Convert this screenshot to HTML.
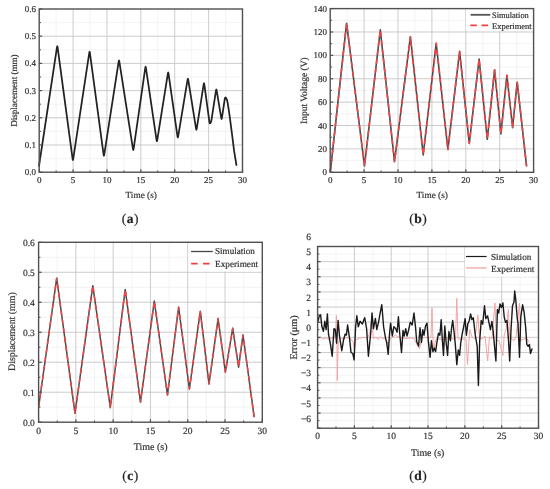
<!DOCTYPE html>
<html><head><meta charset="utf-8"><style>
html,body{margin:0;padding:0;background:#fff;}
svg{display:block;font-family:'Liberation Serif',serif;filter:blur(0.3px);}
text{stroke:#333;stroke-width:0.2px;text-rendering:geometricPrecision;}
</style></head><body>
<svg width="550" height="489" viewBox="0 0 550 489">
<rect width="550" height="489" fill="#fff"/>
<line x1="56.14" y1="9" x2="56.14" y2="172.2" stroke="#f0f0f0" stroke-width="0.8"/>
<line x1="90.03" y1="9" x2="90.03" y2="172.2" stroke="#f0f0f0" stroke-width="0.8"/>
<line x1="123.91" y1="9" x2="123.91" y2="172.2" stroke="#f0f0f0" stroke-width="0.8"/>
<line x1="157.79" y1="9" x2="157.79" y2="172.2" stroke="#f0f0f0" stroke-width="0.8"/>
<line x1="191.68" y1="9" x2="191.68" y2="172.2" stroke="#f0f0f0" stroke-width="0.8"/>
<line x1="225.56" y1="9" x2="225.56" y2="172.2" stroke="#f0f0f0" stroke-width="0.8"/>
<line x1="39.2" y1="158.6" x2="242.5" y2="158.6" stroke="#f0f0f0" stroke-width="0.8"/>
<line x1="39.2" y1="131.4" x2="242.5" y2="131.4" stroke="#f0f0f0" stroke-width="0.8"/>
<line x1="39.2" y1="104.2" x2="242.5" y2="104.2" stroke="#f0f0f0" stroke-width="0.8"/>
<line x1="39.2" y1="77" x2="242.5" y2="77" stroke="#f0f0f0" stroke-width="0.8"/>
<line x1="39.2" y1="49.8" x2="242.5" y2="49.8" stroke="#f0f0f0" stroke-width="0.8"/>
<line x1="39.2" y1="22.6" x2="242.5" y2="22.6" stroke="#f0f0f0" stroke-width="0.8"/>
<line x1="73.08" y1="9" x2="73.08" y2="172.2" stroke="#c6c6c6" stroke-width="0.9"/>
<line x1="106.97" y1="9" x2="106.97" y2="172.2" stroke="#c6c6c6" stroke-width="0.9"/>
<line x1="140.85" y1="9" x2="140.85" y2="172.2" stroke="#c6c6c6" stroke-width="0.9"/>
<line x1="174.73" y1="9" x2="174.73" y2="172.2" stroke="#c6c6c6" stroke-width="0.9"/>
<line x1="208.62" y1="9" x2="208.62" y2="172.2" stroke="#c6c6c6" stroke-width="0.9"/>
<line x1="39.2" y1="145" x2="242.5" y2="145" stroke="#c6c6c6" stroke-width="0.9"/>
<line x1="39.2" y1="117.8" x2="242.5" y2="117.8" stroke="#c6c6c6" stroke-width="0.9"/>
<line x1="39.2" y1="90.6" x2="242.5" y2="90.6" stroke="#c6c6c6" stroke-width="0.9"/>
<line x1="39.2" y1="63.4" x2="242.5" y2="63.4" stroke="#c6c6c6" stroke-width="0.9"/>
<line x1="39.2" y1="36.2" x2="242.5" y2="36.2" stroke="#c6c6c6" stroke-width="0.9"/>
<line x1="347.15" y1="8.6" x2="347.15" y2="172.3" stroke="#f0f0f0" stroke-width="0.8"/>
<line x1="381.05" y1="8.6" x2="381.05" y2="172.3" stroke="#f0f0f0" stroke-width="0.8"/>
<line x1="414.95" y1="8.6" x2="414.95" y2="172.3" stroke="#f0f0f0" stroke-width="0.8"/>
<line x1="448.85" y1="8.6" x2="448.85" y2="172.3" stroke="#f0f0f0" stroke-width="0.8"/>
<line x1="482.75" y1="8.6" x2="482.75" y2="172.3" stroke="#f0f0f0" stroke-width="0.8"/>
<line x1="516.65" y1="8.6" x2="516.65" y2="172.3" stroke="#f0f0f0" stroke-width="0.8"/>
<line x1="330.2" y1="160.61" x2="533.6" y2="160.61" stroke="#f0f0f0" stroke-width="0.8"/>
<line x1="330.2" y1="137.22" x2="533.6" y2="137.22" stroke="#f0f0f0" stroke-width="0.8"/>
<line x1="330.2" y1="113.84" x2="533.6" y2="113.84" stroke="#f0f0f0" stroke-width="0.8"/>
<line x1="330.2" y1="90.45" x2="533.6" y2="90.45" stroke="#f0f0f0" stroke-width="0.8"/>
<line x1="330.2" y1="67.06" x2="533.6" y2="67.06" stroke="#f0f0f0" stroke-width="0.8"/>
<line x1="330.2" y1="43.68" x2="533.6" y2="43.68" stroke="#f0f0f0" stroke-width="0.8"/>
<line x1="330.2" y1="20.29" x2="533.6" y2="20.29" stroke="#f0f0f0" stroke-width="0.8"/>
<line x1="364.1" y1="8.6" x2="364.1" y2="172.3" stroke="#c6c6c6" stroke-width="0.9"/>
<line x1="398" y1="8.6" x2="398" y2="172.3" stroke="#c6c6c6" stroke-width="0.9"/>
<line x1="431.9" y1="8.6" x2="431.9" y2="172.3" stroke="#c6c6c6" stroke-width="0.9"/>
<line x1="465.8" y1="8.6" x2="465.8" y2="172.3" stroke="#c6c6c6" stroke-width="0.9"/>
<line x1="499.7" y1="8.6" x2="499.7" y2="172.3" stroke="#c6c6c6" stroke-width="0.9"/>
<line x1="330.2" y1="148.91" x2="533.6" y2="148.91" stroke="#c6c6c6" stroke-width="0.9"/>
<line x1="330.2" y1="125.53" x2="533.6" y2="125.53" stroke="#c6c6c6" stroke-width="0.9"/>
<line x1="330.2" y1="102.14" x2="533.6" y2="102.14" stroke="#c6c6c6" stroke-width="0.9"/>
<line x1="330.2" y1="78.76" x2="533.6" y2="78.76" stroke="#c6c6c6" stroke-width="0.9"/>
<line x1="330.2" y1="55.37" x2="533.6" y2="55.37" stroke="#c6c6c6" stroke-width="0.9"/>
<line x1="330.2" y1="31.99" x2="533.6" y2="31.99" stroke="#c6c6c6" stroke-width="0.9"/>
<line x1="57.24" y1="242.3" x2="57.24" y2="422.2" stroke="#f0f0f0" stroke-width="0.8"/>
<line x1="94.53" y1="242.3" x2="94.53" y2="422.2" stroke="#f0f0f0" stroke-width="0.8"/>
<line x1="131.81" y1="242.3" x2="131.81" y2="422.2" stroke="#f0f0f0" stroke-width="0.8"/>
<line x1="169.09" y1="242.3" x2="169.09" y2="422.2" stroke="#f0f0f0" stroke-width="0.8"/>
<line x1="206.38" y1="242.3" x2="206.38" y2="422.2" stroke="#f0f0f0" stroke-width="0.8"/>
<line x1="243.66" y1="242.3" x2="243.66" y2="422.2" stroke="#f0f0f0" stroke-width="0.8"/>
<line x1="38.6" y1="407.21" x2="262.3" y2="407.21" stroke="#f0f0f0" stroke-width="0.8"/>
<line x1="38.6" y1="377.23" x2="262.3" y2="377.23" stroke="#f0f0f0" stroke-width="0.8"/>
<line x1="38.6" y1="347.24" x2="262.3" y2="347.24" stroke="#f0f0f0" stroke-width="0.8"/>
<line x1="38.6" y1="317.26" x2="262.3" y2="317.26" stroke="#f0f0f0" stroke-width="0.8"/>
<line x1="38.6" y1="287.27" x2="262.3" y2="287.27" stroke="#f0f0f0" stroke-width="0.8"/>
<line x1="38.6" y1="257.29" x2="262.3" y2="257.29" stroke="#f0f0f0" stroke-width="0.8"/>
<line x1="75.88" y1="242.3" x2="75.88" y2="422.2" stroke="#c6c6c6" stroke-width="0.9"/>
<line x1="113.17" y1="242.3" x2="113.17" y2="422.2" stroke="#c6c6c6" stroke-width="0.9"/>
<line x1="150.45" y1="242.3" x2="150.45" y2="422.2" stroke="#c6c6c6" stroke-width="0.9"/>
<line x1="187.73" y1="242.3" x2="187.73" y2="422.2" stroke="#c6c6c6" stroke-width="0.9"/>
<line x1="225.02" y1="242.3" x2="225.02" y2="422.2" stroke="#c6c6c6" stroke-width="0.9"/>
<line x1="38.6" y1="392.22" x2="262.3" y2="392.22" stroke="#c6c6c6" stroke-width="0.9"/>
<line x1="38.6" y1="362.23" x2="262.3" y2="362.23" stroke="#c6c6c6" stroke-width="0.9"/>
<line x1="38.6" y1="332.25" x2="262.3" y2="332.25" stroke="#c6c6c6" stroke-width="0.9"/>
<line x1="38.6" y1="302.27" x2="262.3" y2="302.27" stroke="#c6c6c6" stroke-width="0.9"/>
<line x1="38.6" y1="272.28" x2="262.3" y2="272.28" stroke="#c6c6c6" stroke-width="0.9"/>
<line x1="336.01" y1="246.5" x2="336.01" y2="428.2" stroke="#f0f0f0" stroke-width="0.8"/>
<line x1="372.83" y1="246.5" x2="372.83" y2="428.2" stroke="#f0f0f0" stroke-width="0.8"/>
<line x1="409.64" y1="246.5" x2="409.64" y2="428.2" stroke="#f0f0f0" stroke-width="0.8"/>
<line x1="446.46" y1="246.5" x2="446.46" y2="428.2" stroke="#f0f0f0" stroke-width="0.8"/>
<line x1="483.27" y1="246.5" x2="483.27" y2="428.2" stroke="#f0f0f0" stroke-width="0.8"/>
<line x1="520.09" y1="246.5" x2="520.09" y2="428.2" stroke="#f0f0f0" stroke-width="0.8"/>
<line x1="317.6" y1="420.63" x2="538.5" y2="420.63" stroke="#f0f0f0" stroke-width="0.8"/>
<line x1="317.6" y1="405.49" x2="538.5" y2="405.49" stroke="#f0f0f0" stroke-width="0.8"/>
<line x1="317.6" y1="390.35" x2="538.5" y2="390.35" stroke="#f0f0f0" stroke-width="0.8"/>
<line x1="317.6" y1="375.2" x2="538.5" y2="375.2" stroke="#f0f0f0" stroke-width="0.8"/>
<line x1="317.6" y1="360.06" x2="538.5" y2="360.06" stroke="#f0f0f0" stroke-width="0.8"/>
<line x1="317.6" y1="344.92" x2="538.5" y2="344.92" stroke="#f0f0f0" stroke-width="0.8"/>
<line x1="317.6" y1="329.78" x2="538.5" y2="329.78" stroke="#f0f0f0" stroke-width="0.8"/>
<line x1="317.6" y1="314.64" x2="538.5" y2="314.64" stroke="#f0f0f0" stroke-width="0.8"/>
<line x1="317.6" y1="299.5" x2="538.5" y2="299.5" stroke="#f0f0f0" stroke-width="0.8"/>
<line x1="317.6" y1="284.35" x2="538.5" y2="284.35" stroke="#f0f0f0" stroke-width="0.8"/>
<line x1="317.6" y1="269.21" x2="538.5" y2="269.21" stroke="#f0f0f0" stroke-width="0.8"/>
<line x1="317.6" y1="254.07" x2="538.5" y2="254.07" stroke="#f0f0f0" stroke-width="0.8"/>
<line x1="354.42" y1="246.5" x2="354.42" y2="428.2" stroke="#c6c6c6" stroke-width="0.9"/>
<line x1="391.23" y1="246.5" x2="391.23" y2="428.2" stroke="#c6c6c6" stroke-width="0.9"/>
<line x1="428.05" y1="246.5" x2="428.05" y2="428.2" stroke="#c6c6c6" stroke-width="0.9"/>
<line x1="464.87" y1="246.5" x2="464.87" y2="428.2" stroke="#c6c6c6" stroke-width="0.9"/>
<line x1="501.68" y1="246.5" x2="501.68" y2="428.2" stroke="#c6c6c6" stroke-width="0.9"/>
<line x1="317.6" y1="413.06" x2="538.5" y2="413.06" stroke="#c6c6c6" stroke-width="0.9"/>
<line x1="317.6" y1="397.92" x2="538.5" y2="397.92" stroke="#c6c6c6" stroke-width="0.9"/>
<line x1="317.6" y1="382.77" x2="538.5" y2="382.77" stroke="#c6c6c6" stroke-width="0.9"/>
<line x1="317.6" y1="367.63" x2="538.5" y2="367.63" stroke="#c6c6c6" stroke-width="0.9"/>
<line x1="317.6" y1="352.49" x2="538.5" y2="352.49" stroke="#c6c6c6" stroke-width="0.9"/>
<line x1="317.6" y1="337.35" x2="538.5" y2="337.35" stroke="#c6c6c6" stroke-width="0.9"/>
<line x1="317.6" y1="322.21" x2="538.5" y2="322.21" stroke="#c6c6c6" stroke-width="0.9"/>
<line x1="317.6" y1="307.07" x2="538.5" y2="307.07" stroke="#c6c6c6" stroke-width="0.9"/>
<line x1="317.6" y1="291.93" x2="538.5" y2="291.93" stroke="#c6c6c6" stroke-width="0.9"/>
<line x1="317.6" y1="276.78" x2="538.5" y2="276.78" stroke="#c6c6c6" stroke-width="0.9"/>
<line x1="317.6" y1="261.64" x2="538.5" y2="261.64" stroke="#c6c6c6" stroke-width="0.9"/>
<path d="M39,166 L57,47.18 Q57.3,45.2 57.57,47.18 L72.63,159.22 Q72.9,161.2 73.2,159.22 L89.3,52.68 Q89.6,50.7 89.87,52.68 L103.63,154.82 Q103.9,156.8 104.21,154.82 L118.69,61.38 Q119,59.4 119.31,61.38 L132.99,149.02 Q133.3,151 133.59,149.02 L145.31,67.58 Q145.6,65.6 145.89,67.58 L156.61,140.32 Q156.9,142.3 157.21,140.32 L167.89,73.38 Q168.2,71.4 168.48,73.38 L177.52,136.62 Q177.8,138.6 178.13,136.63 L187.57,79.67 Q187.9,77.7 188.22,79.67 L196.08,128.93 Q196.4,130.9 196.71,128.92 L203.69,84.18 Q204,82.2 204.27,84.18 L209.43,122.02 Q209.7,124 210.45,122.9 L210.45,122.9 Q211.2,121.8 211.5,119.82 L216,90.48 Q216.3,88.5 216.63,90.47 L221.27,118.23 Q221.6,120.2 221.89,118.22 L224.81,98.58 Q225.1,96.6 226.15,98.2 L226.15,98.2 Q227.2,99.8 227.5,101.78 L229.2,112.82 Q229.5,114.8 229.76,116.78 L232.04,134.42 Q232.3,136.4 232.55,138.38 L233.95,149.52 Q234.2,151.5 234.52,153.47 L236.4,165" fill="none" stroke="#222" stroke-width="1.75" stroke-linejoin="round" stroke-linecap="round"/>
<polyline points="330.4,171.2 346.6,23.2 364.5,166 380.3,29.9 394.5,161.6 410.4,36.7 423.2,154.9 436.2,43.3 447.9,149.4 459.6,51.4 469.3,143.4 479.1,59 487.3,139.3 494.6,69.9 500.9,133.9 506.9,75.4 512.6,127.6 517.2,82.2 526.5,165.7" fill="none" stroke="#4a4a4a" stroke-width="1.6" stroke-linejoin="round" stroke-linecap="round"/>
<polyline points="330.4,171.2 346.6,23.2 364.5,166 380.3,29.9 394.5,161.6 410.4,36.7 423.2,154.9 436.2,43.3 447.9,149.4 459.6,51.4 469.3,143.4 479.1,59 487.3,139.3 494.6,69.9 500.9,133.9 506.9,75.4 512.6,127.6 517.2,82.2 526.5,165.7" fill="none" stroke="#f04444" stroke-width="1.6" stroke-linejoin="round" stroke-linecap="round" stroke-dasharray="4 5" stroke-linecap="butt"/>
<polyline points="38.8,406 56.7,278.2 75,413.3 92.8,285.7 110.3,407.7 125.2,289.4 140.5,402.1 154.3,301.1 167.5,395 178.6,307.2 189.4,388.9 200.3,311.3 209,383.9 218.1,318.6 225.4,372.2 232.7,328.3 238.6,367.2 243,335 254.1,416.7" fill="none" stroke="#4a4a4a" stroke-width="1.5" stroke-linejoin="round" stroke-linecap="round"/>
<polyline points="38.8,406 56.7,278.2 75,413.3 92.8,285.7 110.3,407.7 125.2,289.4 140.5,402.1 154.3,301.1 167.5,395 178.6,307.2 189.4,388.9 200.3,311.3 209,383.9 218.1,318.6 225.4,372.2 232.7,328.3 238.6,367.2 243,335 254.1,416.7" fill="none" stroke="#f04444" stroke-width="1.5" stroke-linejoin="round" stroke-linecap="round" stroke-dasharray="4 5" stroke-linecap="butt"/>
<polyline points="317.8,340 320,337 323,339 326,338 329,339.5 332,338 334.5,338 335.8,330 336.4,315.3 337,345 337.2,380.8 338.2,345 339.5,338 343,339 347,337.5 351,339 353.2,342 354.3,349.4 355.5,340 359,338.5 363,337.5 367,338 369.5,334 371.7,320 373.5,338.7 376,337 378,339.5 380,337 383,338.5 386,339 387.9,344 390,339 393,337 395.6,335 398,337 402,338 406,338.5 410,338 414,338.5 417.3,345.2 419.5,348.9 421.5,338 425,337.5 429,338 431,337 432,307.6 433.2,345 434.2,349 435.5,340 437,339 440,339 444,339.5 448,338 452,339 455.5,339 456.8,298.4 458,339 462,339 466,339 467.5,364.6 469.7,329.7 472,337 475,338.9 477.9,315 479.5,338.9 482,338.9 485,336 487.6,361 489.5,337 492,338.9 495,303 496.3,340.7 499,340.7 502.9,355.5 504.2,335 506,330 508.4,309.4 509.7,338.9 512,338.9 514,340.7 516,337 519.5,303 520.8,340.7 523.5,338.9 527.2,338.9 529,342" fill="none" stroke="#f4a5a5" stroke-width="1.0" stroke-linejoin="round" stroke-linecap="round"/>
<polyline points="317.8,322.2 319.3,315.8 320.6,314.8 321.9,326.8 323.4,331.4 324.8,321.3 326.1,329.6 327.4,313.9 328.5,334.2 330.3,343.3 332.2,356.2 334,328.6 335.3,329.6 336.6,343.3 338.1,320.4 339.5,336 341.8,350.7 343.6,339.7 345.1,334.2 346.4,335.1 347.6,325 349.5,337.8 351,352.5 352.8,353.5 354.1,359.9 355.6,326.8 356.8,315.8 358.3,326.8 360.1,321.3 362.4,324 364.7,317.6 366.6,328.6 368.4,356.2 369.7,343.3 370.8,332.3 372,313 373.5,328.6 375.4,318.5 376.8,329.6 378.7,321.3 380,313.9 381.8,304.7 383.6,326.8 385.5,337.8 386.8,343.3 388.2,354.4 389.5,334.2 390.6,323.1 392.3,336 393.8,326.8 395.6,328.6 397.1,332.3 398.4,316.7 399.6,332.3 401.5,352.5 403,330.5 404.2,336 405.7,328.6 407,336 408.5,330.5 410.3,322.2 412.2,325 414,313 415.5,326.8 416.7,341.5 418.6,346.1 420,327.8 421.5,342.5 422.8,329.7 424,335.2 425.5,326 427,323.2 428.3,340.7 430.1,357.3 431.4,340.7 432.9,351.7 434.3,348.1 435.6,351.7 436.9,342.5 438.4,333.3 439.9,335.2 441.2,319.6 442.4,340.7 443.5,355.4 444.8,326 446.1,342.5 447.6,355.4 448.9,331.5 450.4,340.7 451.6,327.8 452.7,320.5 454,331.5 455.3,344.4 456.8,364.6 458.3,349.9 459.6,355.4 460.8,342.5 462.3,333.3 463.8,326 465.1,318.6 466.4,335.2 467.8,324.1 469.3,320.5 470.6,314 471.9,319.6 473.3,317.7 475.3,335.2 477.2,346.3 478.4,385.6 479.7,340.7 481.2,320.5 482.7,324.2 484.5,305.8 485.8,318.6 487.6,315.9 488.9,322.3 490.4,329.7 491.9,321.4 493.2,331.5 494.5,346.3 495.9,361 497.4,309.4 498.7,313.1 500,303.9 501.4,307.6 502.9,303 504.2,316.8 505.5,322.3 507,320.5 508.4,338.9 509.7,361 511,329.7 512.5,305.8 514,302.1 514.7,291 515.8,300.2 517.1,316.8 518,323.3 519.5,357.3 520.8,316.8 522.6,304.8 524.1,312.2 525.7,327.9 526.8,344.4 528.1,346.3 529.4,344.4 530.5,353.6 532,349" fill="none" stroke="#1a1a1a" stroke-width="1.4" stroke-linejoin="round" stroke-linecap="round"/>
<rect x="466" y="9.3" width="67" height="21.6" fill="#fff"/>
<line x1="470.6" y1="14.8" x2="490.3" y2="14.8" stroke="#555" stroke-width="1.8"/>
<line x1="470.3" y1="25.4" x2="490.3" y2="25.4" stroke="#f04040" stroke-width="1.8" stroke-dasharray="6.5 4.7"/>
<rect x="188.6" y="243" width="73" height="28.4" fill="#fff"/>
<line x1="191.1" y1="251.5" x2="212.8" y2="251.5" stroke="#444" stroke-width="1.3"/>
<line x1="191.1" y1="263.6" x2="212.8" y2="263.6" stroke="#f04040" stroke-width="1.6" stroke-dasharray="6.6 5.3"/>
<rect x="465.1" y="247.2" width="72.7" height="29.6" fill="#fff"/>
<line x1="466" y1="256.5" x2="486.6" y2="256.5" stroke="#1a1a1a" stroke-width="1.2"/>
<line x1="466" y1="267.9" x2="486.6" y2="267.9" stroke="#f5b0b0" stroke-width="1.5"/>
<rect x="39.2" y="9" width="203.3" height="163.2" fill="none" stroke="#505050" stroke-width="1.4"/>
<line x1="39.2" y1="172.2" x2="39.2" y2="169.2" stroke="#505050" stroke-width="1.2"/>
<line x1="73.08" y1="172.2" x2="73.08" y2="169.2" stroke="#505050" stroke-width="1.2"/>
<line x1="106.97" y1="172.2" x2="106.97" y2="169.2" stroke="#505050" stroke-width="1.2"/>
<line x1="140.85" y1="172.2" x2="140.85" y2="169.2" stroke="#505050" stroke-width="1.2"/>
<line x1="174.73" y1="172.2" x2="174.73" y2="169.2" stroke="#505050" stroke-width="1.2"/>
<line x1="208.62" y1="172.2" x2="208.62" y2="169.2" stroke="#505050" stroke-width="1.2"/>
<line x1="242.5" y1="172.2" x2="242.5" y2="169.2" stroke="#505050" stroke-width="1.2"/>
<line x1="56.14" y1="172.2" x2="56.14" y2="170.4" stroke="#505050" stroke-width="1.0"/>
<line x1="90.03" y1="172.2" x2="90.03" y2="170.4" stroke="#505050" stroke-width="1.0"/>
<line x1="123.91" y1="172.2" x2="123.91" y2="170.4" stroke="#505050" stroke-width="1.0"/>
<line x1="157.79" y1="172.2" x2="157.79" y2="170.4" stroke="#505050" stroke-width="1.0"/>
<line x1="191.68" y1="172.2" x2="191.68" y2="170.4" stroke="#505050" stroke-width="1.0"/>
<line x1="225.56" y1="172.2" x2="225.56" y2="170.4" stroke="#505050" stroke-width="1.0"/>
<line x1="39.2" y1="172.2" x2="42.2" y2="172.2" stroke="#505050" stroke-width="1.2"/>
<line x1="39.2" y1="145" x2="42.2" y2="145" stroke="#505050" stroke-width="1.2"/>
<line x1="39.2" y1="117.8" x2="42.2" y2="117.8" stroke="#505050" stroke-width="1.2"/>
<line x1="39.2" y1="90.6" x2="42.2" y2="90.6" stroke="#505050" stroke-width="1.2"/>
<line x1="39.2" y1="63.4" x2="42.2" y2="63.4" stroke="#505050" stroke-width="1.2"/>
<line x1="39.2" y1="36.2" x2="42.2" y2="36.2" stroke="#505050" stroke-width="1.2"/>
<line x1="39.2" y1="9" x2="42.2" y2="9" stroke="#505050" stroke-width="1.2"/>
<line x1="39.2" y1="158.6" x2="41" y2="158.6" stroke="#505050" stroke-width="1.0"/>
<line x1="39.2" y1="131.4" x2="41" y2="131.4" stroke="#505050" stroke-width="1.0"/>
<line x1="39.2" y1="104.2" x2="41" y2="104.2" stroke="#505050" stroke-width="1.0"/>
<line x1="39.2" y1="77" x2="41" y2="77" stroke="#505050" stroke-width="1.0"/>
<line x1="39.2" y1="49.8" x2="41" y2="49.8" stroke="#505050" stroke-width="1.0"/>
<line x1="39.2" y1="22.6" x2="41" y2="22.6" stroke="#505050" stroke-width="1.0"/>
<rect x="330.2" y="8.6" width="203.4" height="163.7" fill="none" stroke="#505050" stroke-width="1.4"/>
<line x1="330.2" y1="172.3" x2="330.2" y2="169.3" stroke="#505050" stroke-width="1.2"/>
<line x1="364.1" y1="172.3" x2="364.1" y2="169.3" stroke="#505050" stroke-width="1.2"/>
<line x1="398" y1="172.3" x2="398" y2="169.3" stroke="#505050" stroke-width="1.2"/>
<line x1="431.9" y1="172.3" x2="431.9" y2="169.3" stroke="#505050" stroke-width="1.2"/>
<line x1="465.8" y1="172.3" x2="465.8" y2="169.3" stroke="#505050" stroke-width="1.2"/>
<line x1="499.7" y1="172.3" x2="499.7" y2="169.3" stroke="#505050" stroke-width="1.2"/>
<line x1="533.6" y1="172.3" x2="533.6" y2="169.3" stroke="#505050" stroke-width="1.2"/>
<line x1="347.15" y1="172.3" x2="347.15" y2="170.5" stroke="#505050" stroke-width="1.0"/>
<line x1="381.05" y1="172.3" x2="381.05" y2="170.5" stroke="#505050" stroke-width="1.0"/>
<line x1="414.95" y1="172.3" x2="414.95" y2="170.5" stroke="#505050" stroke-width="1.0"/>
<line x1="448.85" y1="172.3" x2="448.85" y2="170.5" stroke="#505050" stroke-width="1.0"/>
<line x1="482.75" y1="172.3" x2="482.75" y2="170.5" stroke="#505050" stroke-width="1.0"/>
<line x1="516.65" y1="172.3" x2="516.65" y2="170.5" stroke="#505050" stroke-width="1.0"/>
<line x1="330.2" y1="172.3" x2="333.2" y2="172.3" stroke="#505050" stroke-width="1.2"/>
<line x1="330.2" y1="148.91" x2="333.2" y2="148.91" stroke="#505050" stroke-width="1.2"/>
<line x1="330.2" y1="125.53" x2="333.2" y2="125.53" stroke="#505050" stroke-width="1.2"/>
<line x1="330.2" y1="102.14" x2="333.2" y2="102.14" stroke="#505050" stroke-width="1.2"/>
<line x1="330.2" y1="78.76" x2="333.2" y2="78.76" stroke="#505050" stroke-width="1.2"/>
<line x1="330.2" y1="55.37" x2="333.2" y2="55.37" stroke="#505050" stroke-width="1.2"/>
<line x1="330.2" y1="31.99" x2="333.2" y2="31.99" stroke="#505050" stroke-width="1.2"/>
<line x1="330.2" y1="8.6" x2="333.2" y2="8.6" stroke="#505050" stroke-width="1.2"/>
<line x1="330.2" y1="160.61" x2="332" y2="160.61" stroke="#505050" stroke-width="1.0"/>
<line x1="330.2" y1="137.22" x2="332" y2="137.22" stroke="#505050" stroke-width="1.0"/>
<line x1="330.2" y1="113.84" x2="332" y2="113.84" stroke="#505050" stroke-width="1.0"/>
<line x1="330.2" y1="90.45" x2="332" y2="90.45" stroke="#505050" stroke-width="1.0"/>
<line x1="330.2" y1="67.06" x2="332" y2="67.06" stroke="#505050" stroke-width="1.0"/>
<line x1="330.2" y1="43.68" x2="332" y2="43.68" stroke="#505050" stroke-width="1.0"/>
<line x1="330.2" y1="20.29" x2="332" y2="20.29" stroke="#505050" stroke-width="1.0"/>
<rect x="38.6" y="242.3" width="223.7" height="179.9" fill="none" stroke="#505050" stroke-width="1.4"/>
<line x1="38.6" y1="422.2" x2="38.6" y2="419.2" stroke="#505050" stroke-width="1.2"/>
<line x1="75.88" y1="422.2" x2="75.88" y2="419.2" stroke="#505050" stroke-width="1.2"/>
<line x1="113.17" y1="422.2" x2="113.17" y2="419.2" stroke="#505050" stroke-width="1.2"/>
<line x1="150.45" y1="422.2" x2="150.45" y2="419.2" stroke="#505050" stroke-width="1.2"/>
<line x1="187.73" y1="422.2" x2="187.73" y2="419.2" stroke="#505050" stroke-width="1.2"/>
<line x1="225.02" y1="422.2" x2="225.02" y2="419.2" stroke="#505050" stroke-width="1.2"/>
<line x1="262.3" y1="422.2" x2="262.3" y2="419.2" stroke="#505050" stroke-width="1.2"/>
<line x1="57.24" y1="422.2" x2="57.24" y2="420.4" stroke="#505050" stroke-width="1.0"/>
<line x1="94.53" y1="422.2" x2="94.53" y2="420.4" stroke="#505050" stroke-width="1.0"/>
<line x1="131.81" y1="422.2" x2="131.81" y2="420.4" stroke="#505050" stroke-width="1.0"/>
<line x1="169.09" y1="422.2" x2="169.09" y2="420.4" stroke="#505050" stroke-width="1.0"/>
<line x1="206.38" y1="422.2" x2="206.38" y2="420.4" stroke="#505050" stroke-width="1.0"/>
<line x1="243.66" y1="422.2" x2="243.66" y2="420.4" stroke="#505050" stroke-width="1.0"/>
<line x1="38.6" y1="422.2" x2="41.6" y2="422.2" stroke="#505050" stroke-width="1.2"/>
<line x1="38.6" y1="392.22" x2="41.6" y2="392.22" stroke="#505050" stroke-width="1.2"/>
<line x1="38.6" y1="362.23" x2="41.6" y2="362.23" stroke="#505050" stroke-width="1.2"/>
<line x1="38.6" y1="332.25" x2="41.6" y2="332.25" stroke="#505050" stroke-width="1.2"/>
<line x1="38.6" y1="302.27" x2="41.6" y2="302.27" stroke="#505050" stroke-width="1.2"/>
<line x1="38.6" y1="272.28" x2="41.6" y2="272.28" stroke="#505050" stroke-width="1.2"/>
<line x1="38.6" y1="242.3" x2="41.6" y2="242.3" stroke="#505050" stroke-width="1.2"/>
<line x1="38.6" y1="407.21" x2="40.4" y2="407.21" stroke="#505050" stroke-width="1.0"/>
<line x1="38.6" y1="377.23" x2="40.4" y2="377.23" stroke="#505050" stroke-width="1.0"/>
<line x1="38.6" y1="347.24" x2="40.4" y2="347.24" stroke="#505050" stroke-width="1.0"/>
<line x1="38.6" y1="317.26" x2="40.4" y2="317.26" stroke="#505050" stroke-width="1.0"/>
<line x1="38.6" y1="287.27" x2="40.4" y2="287.27" stroke="#505050" stroke-width="1.0"/>
<line x1="38.6" y1="257.29" x2="40.4" y2="257.29" stroke="#505050" stroke-width="1.0"/>
<rect x="317.6" y="246.5" width="220.9" height="181.7" fill="none" stroke="#505050" stroke-width="1.4"/>
<line x1="317.6" y1="428.2" x2="317.6" y2="425.2" stroke="#505050" stroke-width="1.2"/>
<line x1="354.42" y1="428.2" x2="354.42" y2="425.2" stroke="#505050" stroke-width="1.2"/>
<line x1="391.23" y1="428.2" x2="391.23" y2="425.2" stroke="#505050" stroke-width="1.2"/>
<line x1="428.05" y1="428.2" x2="428.05" y2="425.2" stroke="#505050" stroke-width="1.2"/>
<line x1="464.87" y1="428.2" x2="464.87" y2="425.2" stroke="#505050" stroke-width="1.2"/>
<line x1="501.68" y1="428.2" x2="501.68" y2="425.2" stroke="#505050" stroke-width="1.2"/>
<line x1="538.5" y1="428.2" x2="538.5" y2="425.2" stroke="#505050" stroke-width="1.2"/>
<line x1="336.01" y1="428.2" x2="336.01" y2="426.4" stroke="#505050" stroke-width="1.0"/>
<line x1="372.83" y1="428.2" x2="372.83" y2="426.4" stroke="#505050" stroke-width="1.0"/>
<line x1="409.64" y1="428.2" x2="409.64" y2="426.4" stroke="#505050" stroke-width="1.0"/>
<line x1="446.46" y1="428.2" x2="446.46" y2="426.4" stroke="#505050" stroke-width="1.0"/>
<line x1="483.27" y1="428.2" x2="483.27" y2="426.4" stroke="#505050" stroke-width="1.0"/>
<line x1="520.09" y1="428.2" x2="520.09" y2="426.4" stroke="#505050" stroke-width="1.0"/>
<line x1="317.6" y1="428.2" x2="320.6" y2="428.2" stroke="#505050" stroke-width="1.2"/>
<line x1="317.6" y1="413.06" x2="320.6" y2="413.06" stroke="#505050" stroke-width="1.2"/>
<line x1="317.6" y1="397.92" x2="320.6" y2="397.92" stroke="#505050" stroke-width="1.2"/>
<line x1="317.6" y1="382.77" x2="320.6" y2="382.77" stroke="#505050" stroke-width="1.2"/>
<line x1="317.6" y1="367.63" x2="320.6" y2="367.63" stroke="#505050" stroke-width="1.2"/>
<line x1="317.6" y1="352.49" x2="320.6" y2="352.49" stroke="#505050" stroke-width="1.2"/>
<line x1="317.6" y1="337.35" x2="320.6" y2="337.35" stroke="#505050" stroke-width="1.2"/>
<line x1="317.6" y1="322.21" x2="320.6" y2="322.21" stroke="#505050" stroke-width="1.2"/>
<line x1="317.6" y1="307.07" x2="320.6" y2="307.07" stroke="#505050" stroke-width="1.2"/>
<line x1="317.6" y1="291.93" x2="320.6" y2="291.93" stroke="#505050" stroke-width="1.2"/>
<line x1="317.6" y1="276.78" x2="320.6" y2="276.78" stroke="#505050" stroke-width="1.2"/>
<line x1="317.6" y1="261.64" x2="320.6" y2="261.64" stroke="#505050" stroke-width="1.2"/>
<line x1="317.6" y1="246.5" x2="320.6" y2="246.5" stroke="#505050" stroke-width="1.2"/>
<line x1="317.6" y1="420.63" x2="319.4" y2="420.63" stroke="#505050" stroke-width="1.0"/>
<line x1="317.6" y1="405.49" x2="319.4" y2="405.49" stroke="#505050" stroke-width="1.0"/>
<line x1="317.6" y1="390.35" x2="319.4" y2="390.35" stroke="#505050" stroke-width="1.0"/>
<line x1="317.6" y1="375.2" x2="319.4" y2="375.2" stroke="#505050" stroke-width="1.0"/>
<line x1="317.6" y1="360.06" x2="319.4" y2="360.06" stroke="#505050" stroke-width="1.0"/>
<line x1="317.6" y1="344.92" x2="319.4" y2="344.92" stroke="#505050" stroke-width="1.0"/>
<line x1="317.6" y1="329.78" x2="319.4" y2="329.78" stroke="#505050" stroke-width="1.0"/>
<line x1="317.6" y1="314.64" x2="319.4" y2="314.64" stroke="#505050" stroke-width="1.0"/>
<line x1="317.6" y1="299.5" x2="319.4" y2="299.5" stroke="#505050" stroke-width="1.0"/>
<line x1="317.6" y1="284.35" x2="319.4" y2="284.35" stroke="#505050" stroke-width="1.0"/>
<line x1="317.6" y1="269.21" x2="319.4" y2="269.21" stroke="#505050" stroke-width="1.0"/>
<line x1="317.6" y1="254.07" x2="319.4" y2="254.07" stroke="#505050" stroke-width="1.0"/>
<text x="36" y="175.26" font-size="9" text-anchor="end" fill="#333">0.0</text>
<text x="36" y="148.06" font-size="9" text-anchor="end" fill="#333">0.1</text>
<text x="36" y="120.86" font-size="9" text-anchor="end" fill="#333">0.2</text>
<text x="36" y="93.66" font-size="9" text-anchor="end" fill="#333">0.3</text>
<text x="36" y="66.46" font-size="9" text-anchor="end" fill="#333">0.4</text>
<text x="36" y="39.26" font-size="9" text-anchor="end" fill="#333">0.5</text>
<text x="36" y="12.06" font-size="9" text-anchor="end" fill="#333">0.6</text>
<text x="39.2" y="183.2" font-size="9" text-anchor="middle" fill="#333">0</text>
<text x="73.08" y="183.2" font-size="9" text-anchor="middle" fill="#333">5</text>
<text x="106.97" y="183.2" font-size="9" text-anchor="middle" fill="#333">10</text>
<text x="140.85" y="183.2" font-size="9" text-anchor="middle" fill="#333">15</text>
<text x="174.73" y="183.2" font-size="9" text-anchor="middle" fill="#333">20</text>
<text x="208.62" y="183.2" font-size="9" text-anchor="middle" fill="#333">25</text>
<text x="242.5" y="183.2" font-size="9" text-anchor="middle" fill="#333">30</text>
<text x="327" y="175.36" font-size="9" text-anchor="end" fill="#333">0</text>
<text x="327" y="151.97" font-size="9" text-anchor="end" fill="#333">20</text>
<text x="327" y="128.59" font-size="9" text-anchor="end" fill="#333">40</text>
<text x="327" y="105.2" font-size="9" text-anchor="end" fill="#333">60</text>
<text x="327" y="81.82" font-size="9" text-anchor="end" fill="#333">80</text>
<text x="327" y="58.43" font-size="9" text-anchor="end" fill="#333">100</text>
<text x="327" y="35.05" font-size="9" text-anchor="end" fill="#333">120</text>
<text x="327" y="11.66" font-size="9" text-anchor="end" fill="#333">140</text>
<text x="330.2" y="183.2" font-size="9" text-anchor="middle" fill="#333">0</text>
<text x="364.1" y="183.2" font-size="9" text-anchor="middle" fill="#333">5</text>
<text x="398" y="183.2" font-size="9" text-anchor="middle" fill="#333">10</text>
<text x="431.9" y="183.2" font-size="9" text-anchor="middle" fill="#333">15</text>
<text x="465.8" y="183.2" font-size="9" text-anchor="middle" fill="#333">20</text>
<text x="499.7" y="183.2" font-size="9" text-anchor="middle" fill="#333">25</text>
<text x="533.6" y="183.2" font-size="9" text-anchor="middle" fill="#333">30</text>
<text x="34.8" y="426.23" font-size="9.5" text-anchor="end" fill="#333">0.0</text>
<text x="34.8" y="396.25" font-size="9.5" text-anchor="end" fill="#333">0.1</text>
<text x="34.8" y="366.26" font-size="9.5" text-anchor="end" fill="#333">0.2</text>
<text x="34.8" y="336.28" font-size="9.5" text-anchor="end" fill="#333">0.3</text>
<text x="34.8" y="306.3" font-size="9.5" text-anchor="end" fill="#333">0.4</text>
<text x="34.8" y="276.31" font-size="9.5" text-anchor="end" fill="#333">0.5</text>
<text x="34.8" y="246.33" font-size="9.5" text-anchor="end" fill="#333">0.6</text>
<text x="38.6" y="433.8" font-size="9.5" text-anchor="middle" fill="#333">0</text>
<text x="75.88" y="433.8" font-size="9.5" text-anchor="middle" fill="#333">5</text>
<text x="113.17" y="433.8" font-size="9.5" text-anchor="middle" fill="#333">10</text>
<text x="150.45" y="433.8" font-size="9.5" text-anchor="middle" fill="#333">15</text>
<text x="187.73" y="433.8" font-size="9.5" text-anchor="middle" fill="#333">20</text>
<text x="225.02" y="433.8" font-size="9.5" text-anchor="middle" fill="#333">25</text>
<text x="262.3" y="433.8" font-size="9.5" text-anchor="middle" fill="#333">30</text>
<text x="311" y="421.73" font-size="9.5" text-anchor="end" fill="#333">−6</text>
<text x="311" y="406.58" font-size="9.5" text-anchor="end" fill="#333">−5</text>
<text x="311" y="391.43" font-size="9.5" text-anchor="end" fill="#333">−4</text>
<text x="311" y="376.28" font-size="9.5" text-anchor="end" fill="#333">−3</text>
<text x="311" y="361.12" font-size="9.5" text-anchor="end" fill="#333">−2</text>
<text x="311" y="345.98" font-size="9.5" text-anchor="end" fill="#333">−1</text>
<text x="311" y="330.83" font-size="9.5" text-anchor="end" fill="#333">0</text>
<text x="311" y="315.68" font-size="9.5" text-anchor="end" fill="#333">1</text>
<text x="311" y="300.53" font-size="9.5" text-anchor="end" fill="#333">2</text>
<text x="311" y="285.38" font-size="9.5" text-anchor="end" fill="#333">3</text>
<text x="311" y="270.23" font-size="9.5" text-anchor="end" fill="#333">4</text>
<text x="311" y="255.07" font-size="9.5" text-anchor="end" fill="#333">5</text>
<text x="311" y="239.93" font-size="9.5" text-anchor="end" fill="#333">6</text>
<text x="317.6" y="439" font-size="9.5" text-anchor="middle" fill="#333">0</text>
<text x="354.42" y="439" font-size="9.5" text-anchor="middle" fill="#333">5</text>
<text x="391.23" y="439" font-size="9.5" text-anchor="middle" fill="#333">10</text>
<text x="428.05" y="439" font-size="9.5" text-anchor="middle" fill="#333">15</text>
<text x="464.87" y="439" font-size="9.5" text-anchor="middle" fill="#333">20</text>
<text x="501.68" y="439" font-size="9.5" text-anchor="middle" fill="#333">25</text>
<text x="538.5" y="439" font-size="9.5" text-anchor="middle" fill="#333">30</text>
<text x="141.2" y="198.3" font-size="9.3" text-anchor="middle" fill="#333">Time (s)</text>
<text x="432.2" y="198" font-size="9.3" text-anchor="middle" fill="#333">Time (s)</text>
<text x="150.6" y="450.2" font-size="10" text-anchor="middle" fill="#333">Time (s)</text>
<text x="427.7" y="455.5" font-size="9.9" text-anchor="middle" fill="#333">Time (s)</text>
<text transform="translate(16.8,90.6) rotate(-90)" font-size="9.1" text-anchor="middle" fill="#333">Displacement (mm)</text>
<text transform="translate(307.3,90.6) rotate(-90)" font-size="9.5" text-anchor="middle" fill="#333">Input Voltage (V)</text>
<text transform="translate(15,331.6) rotate(-90)" font-size="9.9" text-anchor="middle" fill="#333">Displacement (mm)</text>
<text transform="translate(296.8,337.5) rotate(-90)" font-size="10.2" text-anchor="middle" fill="#333">Error (μm)</text>
<text x="492" y="17.5" font-size="8.4" text-anchor="start" fill="#333">Simulation</text>
<text x="492" y="28.5" font-size="8.5" text-anchor="start" fill="#333">Experiment</text>
<text x="215" y="254.4" font-size="9.1" text-anchor="start" fill="#333">Simulation</text>
<text x="215" y="266.8" font-size="9.25" text-anchor="start" fill="#333">Experiment</text>
<text x="491" y="259.7" font-size="9.2" text-anchor="start" fill="#333">Simulation</text>
<text x="491" y="271.5" font-size="9.3" text-anchor="start" fill="#333">Experiment</text>
<text x="130.4" y="223" font-size="13.5" letter-spacing="0.5" text-anchor="middle" fill="#222">(<tspan font-weight="bold">a</tspan>)</text>
<text x="418.2" y="223" font-size="13.5" letter-spacing="0.5" text-anchor="middle" fill="#222">(<tspan font-weight="bold">b</tspan>)</text>
<text x="130.5" y="480.2" font-size="13.5" letter-spacing="0.5" text-anchor="middle" fill="#222">(<tspan font-weight="bold">c</tspan>)</text>
<text x="418.2" y="479.9" font-size="13.5" letter-spacing="0.5" text-anchor="middle" fill="#222">(<tspan font-weight="bold">d</tspan>)</text>
</svg>
</body></html>
